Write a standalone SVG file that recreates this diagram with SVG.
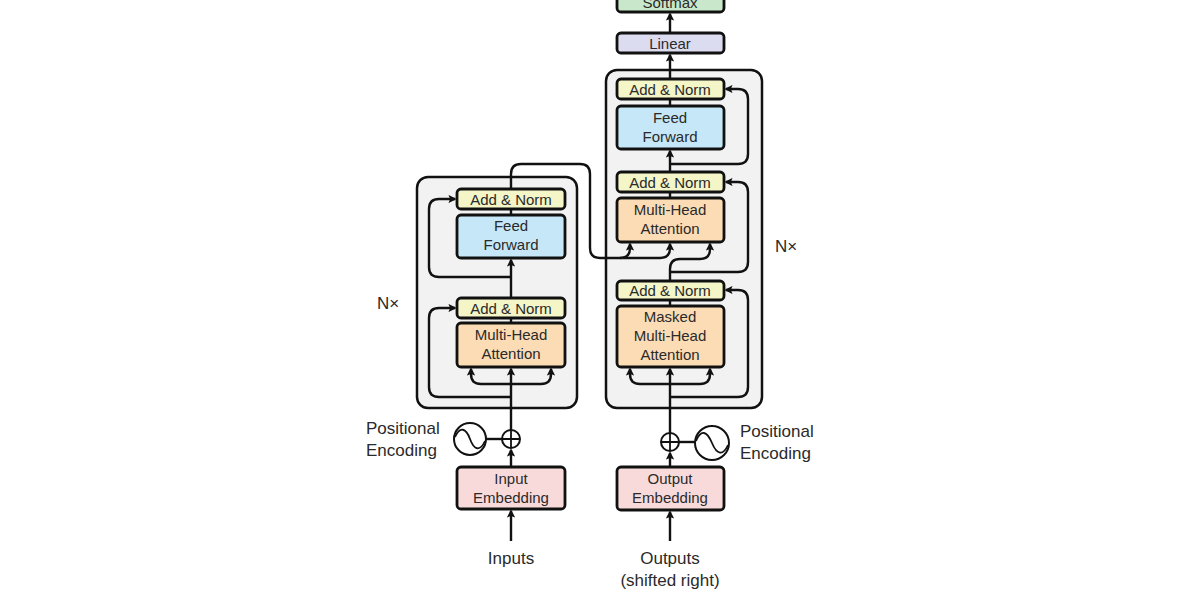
<svg xmlns="http://www.w3.org/2000/svg" width="1200" height="600" viewBox="0 0 1200 600">
<defs>
<marker id="arr" viewBox="0 0 10 10" refX="8" refY="5" markerWidth="3.8" markerHeight="3.4" orient="auto" markerUnits="strokeWidth"><path d="M0,0 L10,5 L0,10 L2,5 z" fill="#111"/></marker>
<style>
.stack{fill:#f2f2f2;stroke:#111;stroke-width:2.5}
.box{stroke:#111;stroke-width:2.8}
.an{fill:#f4f6c8}
.ff{fill:#c6e7f7}
.mha{fill:#fcdcb5}
.emb{fill:#f8dadb}
.lin{fill:#dcdcf0}
.sm{fill:#c9e8cb}
.c{fill:none;stroke:#111;stroke-width:2.4}
.a{marker-end:url(#arr)}
text{font-family:"Liberation Sans",Arial,sans-serif;fill:#2a2a2a}
.t{font-size:15px;text-anchor:middle}
.l{font-size:17px}
.lm{font-size:17px;text-anchor:middle}
</style>
</defs>
<rect width="1200" height="600" fill="#fff"/>

<g id="encoder-stack"><rect class="stack" x="417" y="177" width="160" height="231" rx="11"/></g>
<g id="decoder-stack"><rect class="stack" x="606" y="70" width="156" height="338" rx="11"/></g>

<g id="connectors">
<!-- encoder -->
<path class="c a" d="M511,541 V511"/>
<path class="c a" d="M511,467 V450"/>
<path class="c a" d="M511,430 V369"/>
<path class="c a" d="M511,384 H481 Q471,384 471,374 V369"/>
<path class="c a" d="M511,384 H541 Q551,384 551,374 V369"/>
<path class="c a" d="M511,397 H439 Q429,397 429,387 V318 Q429,308 439,308 H455"/>
<path class="c" d="M511,323 V318"/>
<path class="c a" d="M511,299 V260"/>
<path class="c a" d="M511,277 H439 Q429,277 429,267 V209 Q429,199 439,199 H455"/>
<path class="c" d="M511,215 V209"/>
<path class="c" d="M486,439 H502"/>
<!-- encoder to decoder -->
<path class="c a" d="M511,189 V174 Q511,164 521,164 H580 Q590,164 590,174 V248 Q590,258 600,258 H620 Q630,258 630,248 V244"/>
<path class="c a" d="M620,258 H660 Q670,258 670,248 V244"/>
<!-- decoder -->
<path class="c a" d="M670,541 V512"/>
<path class="c a" d="M670,467 V453"/>
<path class="c a" d="M670,433 V369"/>
<path class="c a" d="M670,384 H640 Q630,384 630,374 V369"/>
<path class="c a" d="M670,384 H700 Q710,384 710,374 V369"/>
<path class="c a" d="M670,397 H738 Q748,397 748,387 V300 Q748,290 738,290 H726"/>
<path class="c" d="M670,306 V300"/>
<path class="c a" d="M670,281 V269 Q670,259 680,259 H700 Q710,259 710,249 V244"/>
<path class="c a" d="M670,272 H738 Q748,272 748,262 V192 Q748,182 738,182 H726"/>
<path class="c" d="M670,198 V192"/>
<path class="c a" d="M670,172 V151"/>
<path class="c a" d="M670,164 H738 Q748,164 748,154 V99 Q748,89 738,89 H726"/>
<path class="c" d="M670,106 V99"/>
<path class="c a" d="M670,79 V55"/>
<path class="c a" d="M670,33 V14"/>
<path class="c" d="M679,442 H695"/>
</g>

<g id="enc-add-norm-2"><rect class="box an" x="457" y="189" width="108" height="20" rx="4"/><text class="t" x="511" y="204.5">Add &amp; Norm</text></g>
<g id="enc-feed-forward"><rect class="box ff" x="457" y="215" width="108" height="43" rx="4"/><text class="t" x="511" y="231">Feed</text><text class="t" x="511" y="249.5">Forward</text></g>
<g id="enc-add-norm-1"><rect class="box an" x="457" y="298" width="108" height="20" rx="4"/><text class="t" x="511" y="313.5">Add &amp; Norm</text></g>
<g id="enc-mha"><rect class="box mha" x="457" y="323" width="108" height="44" rx="4"/><text class="t" x="511" y="340">Multi-Head</text><text class="t" x="511" y="358.5">Attention</text></g>
<g id="enc-pos-enc"><circle cx="470" cy="439" r="16" fill="#fff" stroke="#111" stroke-width="2"/><path d="M455,437 C460,426 466,428 470,439 C474,450 480,452 485,441" fill="none" stroke="#111" stroke-width="1.8"/><text class="l" x="366" y="434">Positional</text><text class="l" x="366" y="456">Encoding</text></g>
<g id="enc-plus"><circle cx="511" cy="439" r="9" fill="#fff" stroke="#111" stroke-width="2"/><path d="M502,439 H520 M511,430 V448" stroke="#111" stroke-width="1.8"/></g>
<g id="input-embedding"><rect class="box emb" x="457" y="467" width="108" height="42" rx="4"/><text class="t" x="511" y="484">Input</text><text class="t" x="511" y="502.5">Embedding</text></g>
<g id="inputs"><text class="lm" x="511" y="564">Inputs</text></g>
<g id="enc-nx"><text class="l" x="377" y="309">N×</text></g>

<g id="softmax"><rect class="box sm" x="617" y="-10" width="107" height="22" rx="4"/><text class="t" x="670" y="7.5">Softmax</text></g>
<g id="linear"><rect class="box lin" x="617" y="33" width="107" height="20" rx="4"/><text class="t" x="670" y="49">Linear</text></g>
<g id="dec-add-norm-3"><rect class="box an" x="617" y="79" width="107" height="20" rx="4"/><text class="t" x="670" y="94.5">Add &amp; Norm</text></g>
<g id="dec-feed-forward"><rect class="box ff" x="617" y="106" width="107" height="43" rx="4"/><text class="t" x="670" y="123">Feed</text><text class="t" x="670" y="141.5">Forward</text></g>
<g id="dec-add-norm-2"><rect class="box an" x="617" y="172" width="107" height="20" rx="4"/><text class="t" x="670" y="187.5">Add &amp; Norm</text></g>
<g id="dec-mha"><rect class="box mha" x="617" y="198" width="107" height="44" rx="4"/><text class="t" x="670" y="215">Multi-Head</text><text class="t" x="670" y="233.5">Attention</text></g>
<g id="dec-add-norm-1"><rect class="box an" x="617" y="281" width="107" height="19" rx="4"/><text class="t" x="670" y="296">Add &amp; Norm</text></g>
<g id="dec-masked-mha"><rect class="box mha" x="617" y="306" width="107" height="61" rx="4"/><text class="t" x="670" y="322">Masked</text><text class="t" x="670" y="341">Multi-Head</text><text class="t" x="670" y="359.5">Attention</text></g>
<g id="dec-plus"><circle cx="670" cy="442" r="9" fill="#fff" stroke="#111" stroke-width="2"/><path d="M661,442 H679 M670,433 V451" stroke="#111" stroke-width="1.8"/></g>
<g id="dec-pos-enc"><circle cx="712" cy="443" r="17" fill="#fff" stroke="#111" stroke-width="2"/><path d="M696,441 C701,429 707,431 712,443 C717,455 723,456 728,445" fill="none" stroke="#111" stroke-width="1.8"/><text class="l" x="740" y="437">Positional</text><text class="l" x="740" y="459">Encoding</text></g>
<g id="output-embedding"><rect class="box emb" x="617" y="467" width="107" height="43" rx="4"/><text class="t" x="670" y="484">Output</text><text class="t" x="670" y="502.5">Embedding</text></g>
<g id="outputs"><text class="lm" x="670" y="564">Outputs</text><text class="lm" x="670" y="586">(shifted right)</text></g>
<g id="dec-nx"><text class="l" x="775" y="252">N×</text></g>
</svg>
